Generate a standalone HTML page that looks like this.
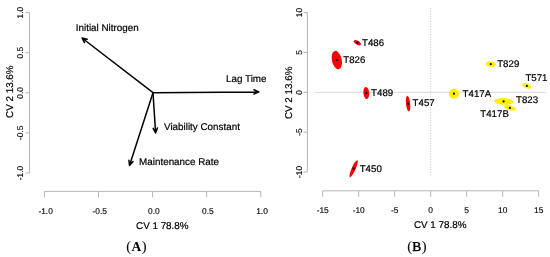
<!DOCTYPE html><html><head><meta charset="utf-8"><title>CVA plots</title><style>html,body{margin:0;padding:0;background:#fff}svg{display:block}text{font-family:"Liberation Sans",Arial,sans-serif;fill:#000;stroke:#000;stroke-width:.2px;text-rendering:geometricPrecision}.t{font-size:8.4px;stroke-width:.14px}.l{font-size:9.85px}.r{font-size:9.7px}.p{font-weight:normal;font-size:14.5px;stroke:#000;stroke-width:.08px}.b{font-weight:normal;stroke:#000;stroke-width:.45px}.c{stroke:none;letter-spacing:.35px;font-family:"Liberation Serif","Times New Roman",serif;font-weight:bold;font-size:13.5px}</style></head><body>
<svg width="550" height="257" viewBox="0 0 550 257">
<rect width="550" height="257" fill="#fff"/>
<path d="M29.5 12.599999999999994V173.0" stroke="#b6b6b6" stroke-width="1" fill="none"/>
<path d="M25.5 12.599999999999994H29.5" stroke="#b6b6b6" stroke-width="1" fill="none"/>
<text class="t" text-anchor="middle" transform="translate(23.3 12.599999999999994) rotate(-90)">1.0</text>
<path d="M25.5 52.699999999999996H29.5" stroke="#b6b6b6" stroke-width="1" fill="none"/>
<text class="t" text-anchor="middle" transform="translate(23.3 52.699999999999996) rotate(-90)">0.5</text>
<path d="M25.5 92.8H29.5" stroke="#b6b6b6" stroke-width="1" fill="none"/>
<text class="t" text-anchor="middle" transform="translate(23.3 92.8) rotate(-90)">0.0</text>
<path d="M25.5 132.9H29.5" stroke="#b6b6b6" stroke-width="1" fill="none"/>
<text class="t" text-anchor="middle" transform="translate(23.3 132.9) rotate(-90)">-0.5</text>
<path d="M25.5 173.0H29.5" stroke="#b6b6b6" stroke-width="1" fill="none"/>
<text class="t" text-anchor="middle" transform="translate(23.3 173.0) rotate(-90)">-1.0</text>
<path d="M44.39999999999999 191.4H260.8" stroke="#b6b6b6" stroke-width="1" fill="none"/>
<path d="M44.39999999999999 191.4V197.4" stroke="#b6b6b6" stroke-width="1" fill="none"/>
<text class="t" text-anchor="middle" x="45.6" y="213.9">-1.0</text>
<path d="M98.5 191.4V197.4" stroke="#b6b6b6" stroke-width="1" fill="none"/>
<text class="t" text-anchor="middle" x="99.7" y="213.9">-0.5</text>
<path d="M152.6 191.4V197.4" stroke="#b6b6b6" stroke-width="1" fill="none"/>
<text class="t" text-anchor="middle" x="153.8" y="213.9">0.0</text>
<path d="M206.7 191.4V197.4" stroke="#b6b6b6" stroke-width="1" fill="none"/>
<text class="t" text-anchor="middle" x="207.9" y="213.9">0.5</text>
<path d="M260.8 191.4V197.4" stroke="#b6b6b6" stroke-width="1" fill="none"/>
<text class="t" text-anchor="middle" x="262.0" y="213.9">1.0</text>
<text class="l" text-anchor="middle" transform="translate(12.6 91.7) rotate(-90)">CV 2 13.6%</text>
<text class="l" text-anchor="middle" x="162.3" y="228.5">CV 1 78.8%</text>
<path d="M153 92.7L82.00 38.00M87.15 39.25L82.00 38.00L84.52 42.66" stroke="#000" stroke-width="1.5" fill="none" stroke-linecap="round" stroke-linejoin="round"/>
<path d="M153 92.7L258.80 91.90M253.97 94.09L258.80 91.90L253.94 89.78" stroke="#000" stroke-width="1.5" fill="none" stroke-linecap="round" stroke-linejoin="round"/>
<path d="M153 92.7L155.60 133.00M153.14 128.31L155.60 133.00L157.44 128.03" stroke="#000" stroke-width="1.5" fill="none" stroke-linecap="round" stroke-linejoin="round"/>
<path d="M153 92.7L129.50 165.50M128.94 160.23L129.50 165.50L133.04 161.55" stroke="#000" stroke-width="1.5" fill="none" stroke-linecap="round" stroke-linejoin="round"/>
<text class="l" x="75.8" y="30.6">Initial Nitrogen</text>
<text class="l" x="226" y="81.8">Lag Time</text>
<text class="l" x="164" y="130.1">Viability Constant</text>
<text class="l" x="139.1" y="164.5">Maintenance Rate</text>
<text class="c" text-anchor="middle" x="136.6" y="250.6"><tspan class="p">(</tspan>A<tspan class="p">)</tspan></text>
<path d="M307.4 12.599999999999994V172.0" stroke="#b6b6b6" stroke-width="1" fill="none"/>
<path d="M303.4 12.599999999999994H307.4" stroke="#b6b6b6" stroke-width="1" fill="none"/>
<text class="t" text-anchor="middle" transform="translate(302.0 12.599999999999994) rotate(-90)">10</text>
<path d="M303.4 52.449999999999996H307.4" stroke="#b6b6b6" stroke-width="1" fill="none"/>
<text class="t" text-anchor="middle" transform="translate(302.0 52.449999999999996) rotate(-90)">5</text>
<path d="M303.4 92.3H307.4" stroke="#b6b6b6" stroke-width="1" fill="none"/>
<text class="t" text-anchor="middle" transform="translate(302.0 92.3) rotate(-90)">0</text>
<path d="M303.4 132.15H307.4" stroke="#b6b6b6" stroke-width="1" fill="none"/>
<text class="t" text-anchor="middle" transform="translate(302.0 132.15) rotate(-90)">-5</text>
<path d="M303.4 172.0H307.4" stroke="#b6b6b6" stroke-width="1" fill="none"/>
<text class="t" text-anchor="middle" transform="translate(302.0 172.0) rotate(-90)">-10</text>
<path d="M322.7 190.8H538.7" stroke="#b6b6b6" stroke-width="1" fill="none"/>
<path d="M322.7 190.8V196.8" stroke="#b6b6b6" stroke-width="1" fill="none"/>
<text class="t" text-anchor="middle" x="322.7" y="212.7">-15</text>
<path d="M358.7 190.8V196.8" stroke="#b6b6b6" stroke-width="1" fill="none"/>
<text class="t" text-anchor="middle" x="358.7" y="212.7">-10</text>
<path d="M394.7 190.8V196.8" stroke="#b6b6b6" stroke-width="1" fill="none"/>
<text class="t" text-anchor="middle" x="394.7" y="212.7">-5</text>
<path d="M430.7 190.8V196.8" stroke="#b6b6b6" stroke-width="1" fill="none"/>
<text class="t" text-anchor="middle" x="430.7" y="212.7">0</text>
<path d="M466.7 190.8V196.8" stroke="#b6b6b6" stroke-width="1" fill="none"/>
<text class="t" text-anchor="middle" x="466.7" y="212.7">5</text>
<path d="M502.7 190.8V196.8" stroke="#b6b6b6" stroke-width="1" fill="none"/>
<text class="t" text-anchor="middle" x="502.7" y="212.7">10</text>
<path d="M538.7 190.8V196.8" stroke="#b6b6b6" stroke-width="1" fill="none"/>
<text class="t" text-anchor="middle" x="538.7" y="212.7">15</text>
<text class="l" text-anchor="middle" transform="translate(292.3 92.8) rotate(-90)">CV 2 13.6%</text>
<text class="l" text-anchor="middle" x="440.2" y="227.5">CV 1 78.8%</text>
<path d="M314.8 92.3H546" stroke="#d9d9d9" stroke-width="1" fill="none"/>
<path d="M430.6 8V176" stroke="#c4c4c4" stroke-width="1" stroke-dasharray="1 1.6" fill="none"/>
<ellipse cx="357.3" cy="42.7" rx="4.0" ry="1.9" transform="rotate(32 357.3 42.7)" fill="#fc0000"/>
<circle cx="357.3" cy="42.7" r="1.1" fill="#000"/>
<ellipse cx="336.8" cy="60.1" rx="9.4" ry="4.9" transform="rotate(78 336.8 60.1)" fill="#fc0000"/>
<circle cx="336.8" cy="60.1" r="1.1" fill="#000"/>
<ellipse cx="366.3" cy="93" rx="6.1" ry="2.9" transform="rotate(85 366.3 93)" fill="#fc0000"/>
<circle cx="366.3" cy="93" r="1.1" fill="#000"/>
<ellipse cx="408.1" cy="103.7" rx="7.9" ry="2.1" transform="rotate(84 408.1 103.7)" fill="#fc0000"/>
<circle cx="408.1" cy="103.7" r="1.1" fill="#000"/>
<ellipse cx="353.6" cy="168.7" rx="9.3" ry="2.0" transform="rotate(-66 353.6 168.7)" fill="#fc0000"/>
<circle cx="353.6" cy="168.7" r="1.1" fill="#000"/>
<ellipse cx="453.9" cy="93.7" rx="5.1" ry="5.0" transform="rotate(0 453.9 93.7)" fill="#fff000"/>
<circle cx="453.9" cy="93.7" r="1.1" fill="#000"/>
<ellipse cx="490.8" cy="64.1" rx="4.9" ry="2.7" transform="rotate(5 490.8 64.1)" fill="#fff000"/>
<circle cx="490.8" cy="64.1" r="1.1" fill="#000"/>
<ellipse cx="526.8" cy="85.9" rx="4.6" ry="2.4" transform="rotate(20 526.8 85.9)" fill="#fff000"/>
<circle cx="526.8" cy="85.9" r="1.1" fill="#000"/>
<ellipse cx="503.6" cy="101.4" rx="9.5" ry="3.4" transform="rotate(3 503.6 101.4)" fill="#fff000"/>
<circle cx="503.6" cy="101.4" r="1.1" fill="#000"/>
<ellipse cx="509.9" cy="107.9" rx="6.2" ry="2.5" transform="rotate(15 509.9 107.9)" fill="#fff000"/>
<circle cx="509.9" cy="107.9" r="1.1" fill="#000"/>
<text class="r" x="362.0" y="46.4">T486</text>
<text class="r" x="343.3" y="62.6">T826</text>
<text class="r" x="371.1" y="96">T489</text>
<text class="r" x="412.6" y="106.3">T457</text>
<text class="r" x="359.7" y="171.8">T450</text>
<text class="r" x="462.6" y="96.7">T417A</text>
<text class="r" x="497.2" y="67.4">T829</text>
<text class="r" x="525.4" y="80.5">T571</text>
<text class="r" x="516.0" y="103.4">T823</text>
<text class="r" x="480.3" y="116.9">T417B</text>
<text class="c" text-anchor="middle" x="417.0" y="250.6"><tspan class="p">(</tspan><tspan class="b">B</tspan><tspan class="p">)</tspan></text>
</svg></body></html>
